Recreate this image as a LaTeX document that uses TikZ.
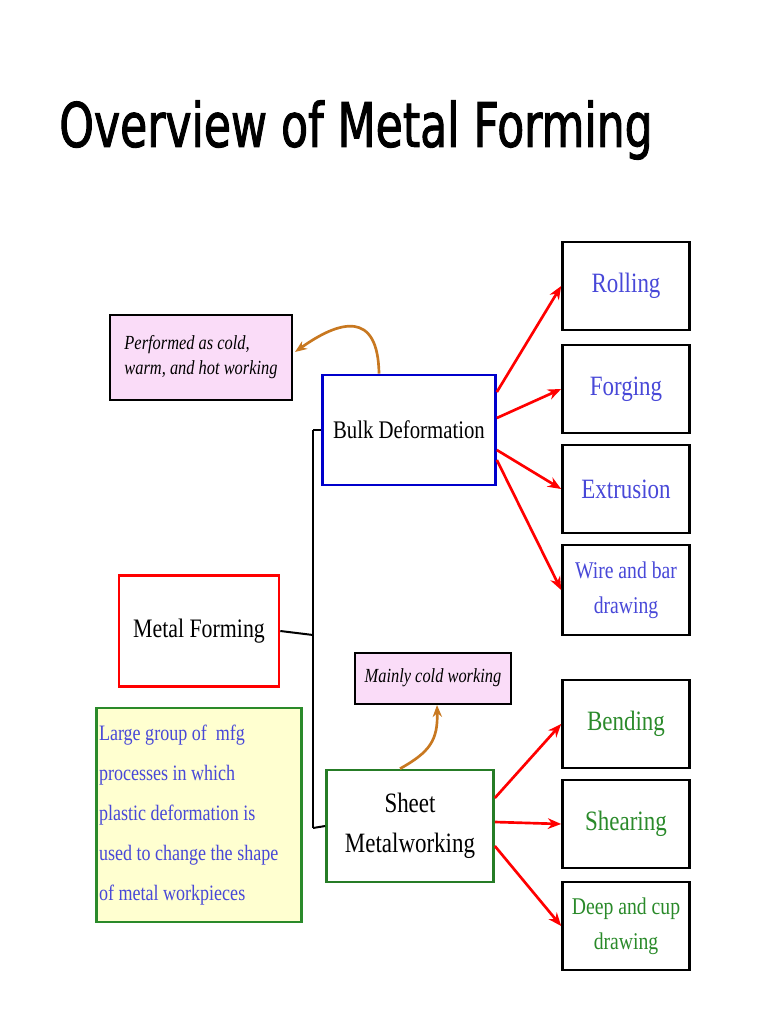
\documentclass[tikz,border=0pt]{standalone}
\usepackage{fontspec}
\setmainfont[FakeStretch=0.82]{Liberation Serif}
\newfontfamily\titlefont[FakeStretch=0.8,FakeBold=1.5]{DejaVu Sans Condensed}
\usetikzlibrary{arrows.meta}
\definecolor{pinkbg}{HTML}{FADCF8}
\definecolor{yelbg}{HTML}{FFFFD0}
\definecolor{bluetx}{HTML}{4848D8}
\definecolor{greentx}{HTML}{2A8A2A}
\definecolor{orng}{HTML}{C87820}
\newlength\pxu \setlength\pxu{0.75pt}
\tikzset{
 box/.style={draw=black,line width=2pt,minimum width=127\pxu,minimum height=88\pxu,align=center,font=\fontsize{21}{24}\selectfont},
 bluebox/.style={box,text=bluetx},
 greenbox/.style={box,text=greentx},
 redarr/.style={draw=red,line width=2pt,-{Stealth[length=10pt,width=8pt]}},
 orarr/.style={draw=orng,line width=2pt,-{Stealth[length=9pt,width=7pt]}},
 link/.style={draw=black,line width=1.5pt}
}
\begin{document}
\begin{tikzpicture}[x=0.75pt,y=-0.75pt]
\useasboundingbox (0,0) rectangle (768,1024);
\node[font=\titlefont\fontsize{46}{50}\selectfont] (title) at (356,130) {Overview of Metal Forming};
\node[draw,line width=1.5pt,fill=pinkbg,minimum width=182\pxu,minimum height=85\pxu,align=left,font=\itshape\fontsize{15}{19}\selectfont] (perf) at (201,357) {Performed as cold,\\warm, and hot working};
\node[draw=blue!80!black,line width=2pt,minimum width=173\pxu,minimum height=110\pxu,font=\fontsize{19}{22}\selectfont,inner sep=1pt] (bulk) at (409,430) {Bulk Deformation};
\node[draw=red,line width=2pt,minimum width=160\pxu,minimum height=111\pxu,font=\fontsize{20}{24}\selectfont] (mf) at (199,631) {Metal Forming};
\node[draw=greentx,line width=2pt,fill=yelbg,minimum width=204\pxu,minimum height=214\pxu,align=flush left,text=bluetx,font=\fontsize{16.5}{30}\selectfont,text width=200\pxu,inner sep=2pt] (large) at (199,815) {Large group of \ mfg\\processes in which\\plastic deformation is\\used to change the shape\\of metal workpieces};
\node[draw,line width=1.5pt,fill=pinkbg,minimum width=156\pxu,minimum height=51\pxu,font=\itshape\fontsize{15}{18}\selectfont] (cold) at (433,678) {Mainly cold working};
\node[draw=greentx!90!black,line width=2pt,minimum width=167\pxu,minimum height=112\pxu,align=center,font=\fontsize{21}{30}\selectfont] (sheet) at (410,826) {Sheet\\Metalworking};
\node[bluebox] (roll) at (626,286) {Rolling};
\node[bluebox] (forg) at (626,389) {Forging};
\node[bluebox] (extr) at (626,489) {Extrusion};
\node[bluebox,minimum height=90\pxu,font=\fontsize{18}{26}\selectfont] (wire) at (626,590) {Wire and bar\\drawing};
\node[greenbox] (bend) at (626,724) {Bending};
\node[greenbox] (shear) at (626,824) {Shearing};
\node[greenbox,font=\fontsize{18}{26}\selectfont] (deep) at (626,926) {Deep and cup\\drawing};
\coordinate (j) at (313,635);
\coordinate (jt) at (313,430);
\coordinate (jb) at (313,828);
\draw[link] (mf.east) -- (j);
\draw[link] (jt) -- (jb);
\draw[link] (jt) -- (bulk.west);
\draw[link] (jb) -- (sheet.west);
\draw[redarr] ([yshift=38\pxu]bulk.east) -- (roll.west);
\draw[redarr] ([yshift=12\pxu]bulk.east) -- (forg.west);
\draw[redarr] ([yshift=-20\pxu]bulk.east) -- (extr.west);
\draw[redarr] ([yshift=-30\pxu]bulk.east) -- (wire.west);
\draw[redarr] ([yshift=28\pxu]sheet.east) -- (bend.west);
\draw[redarr] ([yshift=4\pxu]sheet.east) -- (shear.west);
\draw[redarr] ([yshift=-20\pxu]sheet.east) -- (deep.west);
\draw[orarr] ([xshift=-30\pxu]bulk.north) .. controls (378,310) and (340,320) .. (295,352);
\draw[orarr] ([xshift=-10\pxu]sheet.north) .. controls (430,752) and (438,740) .. (437,705);
\end{tikzpicture}
\end{document}
